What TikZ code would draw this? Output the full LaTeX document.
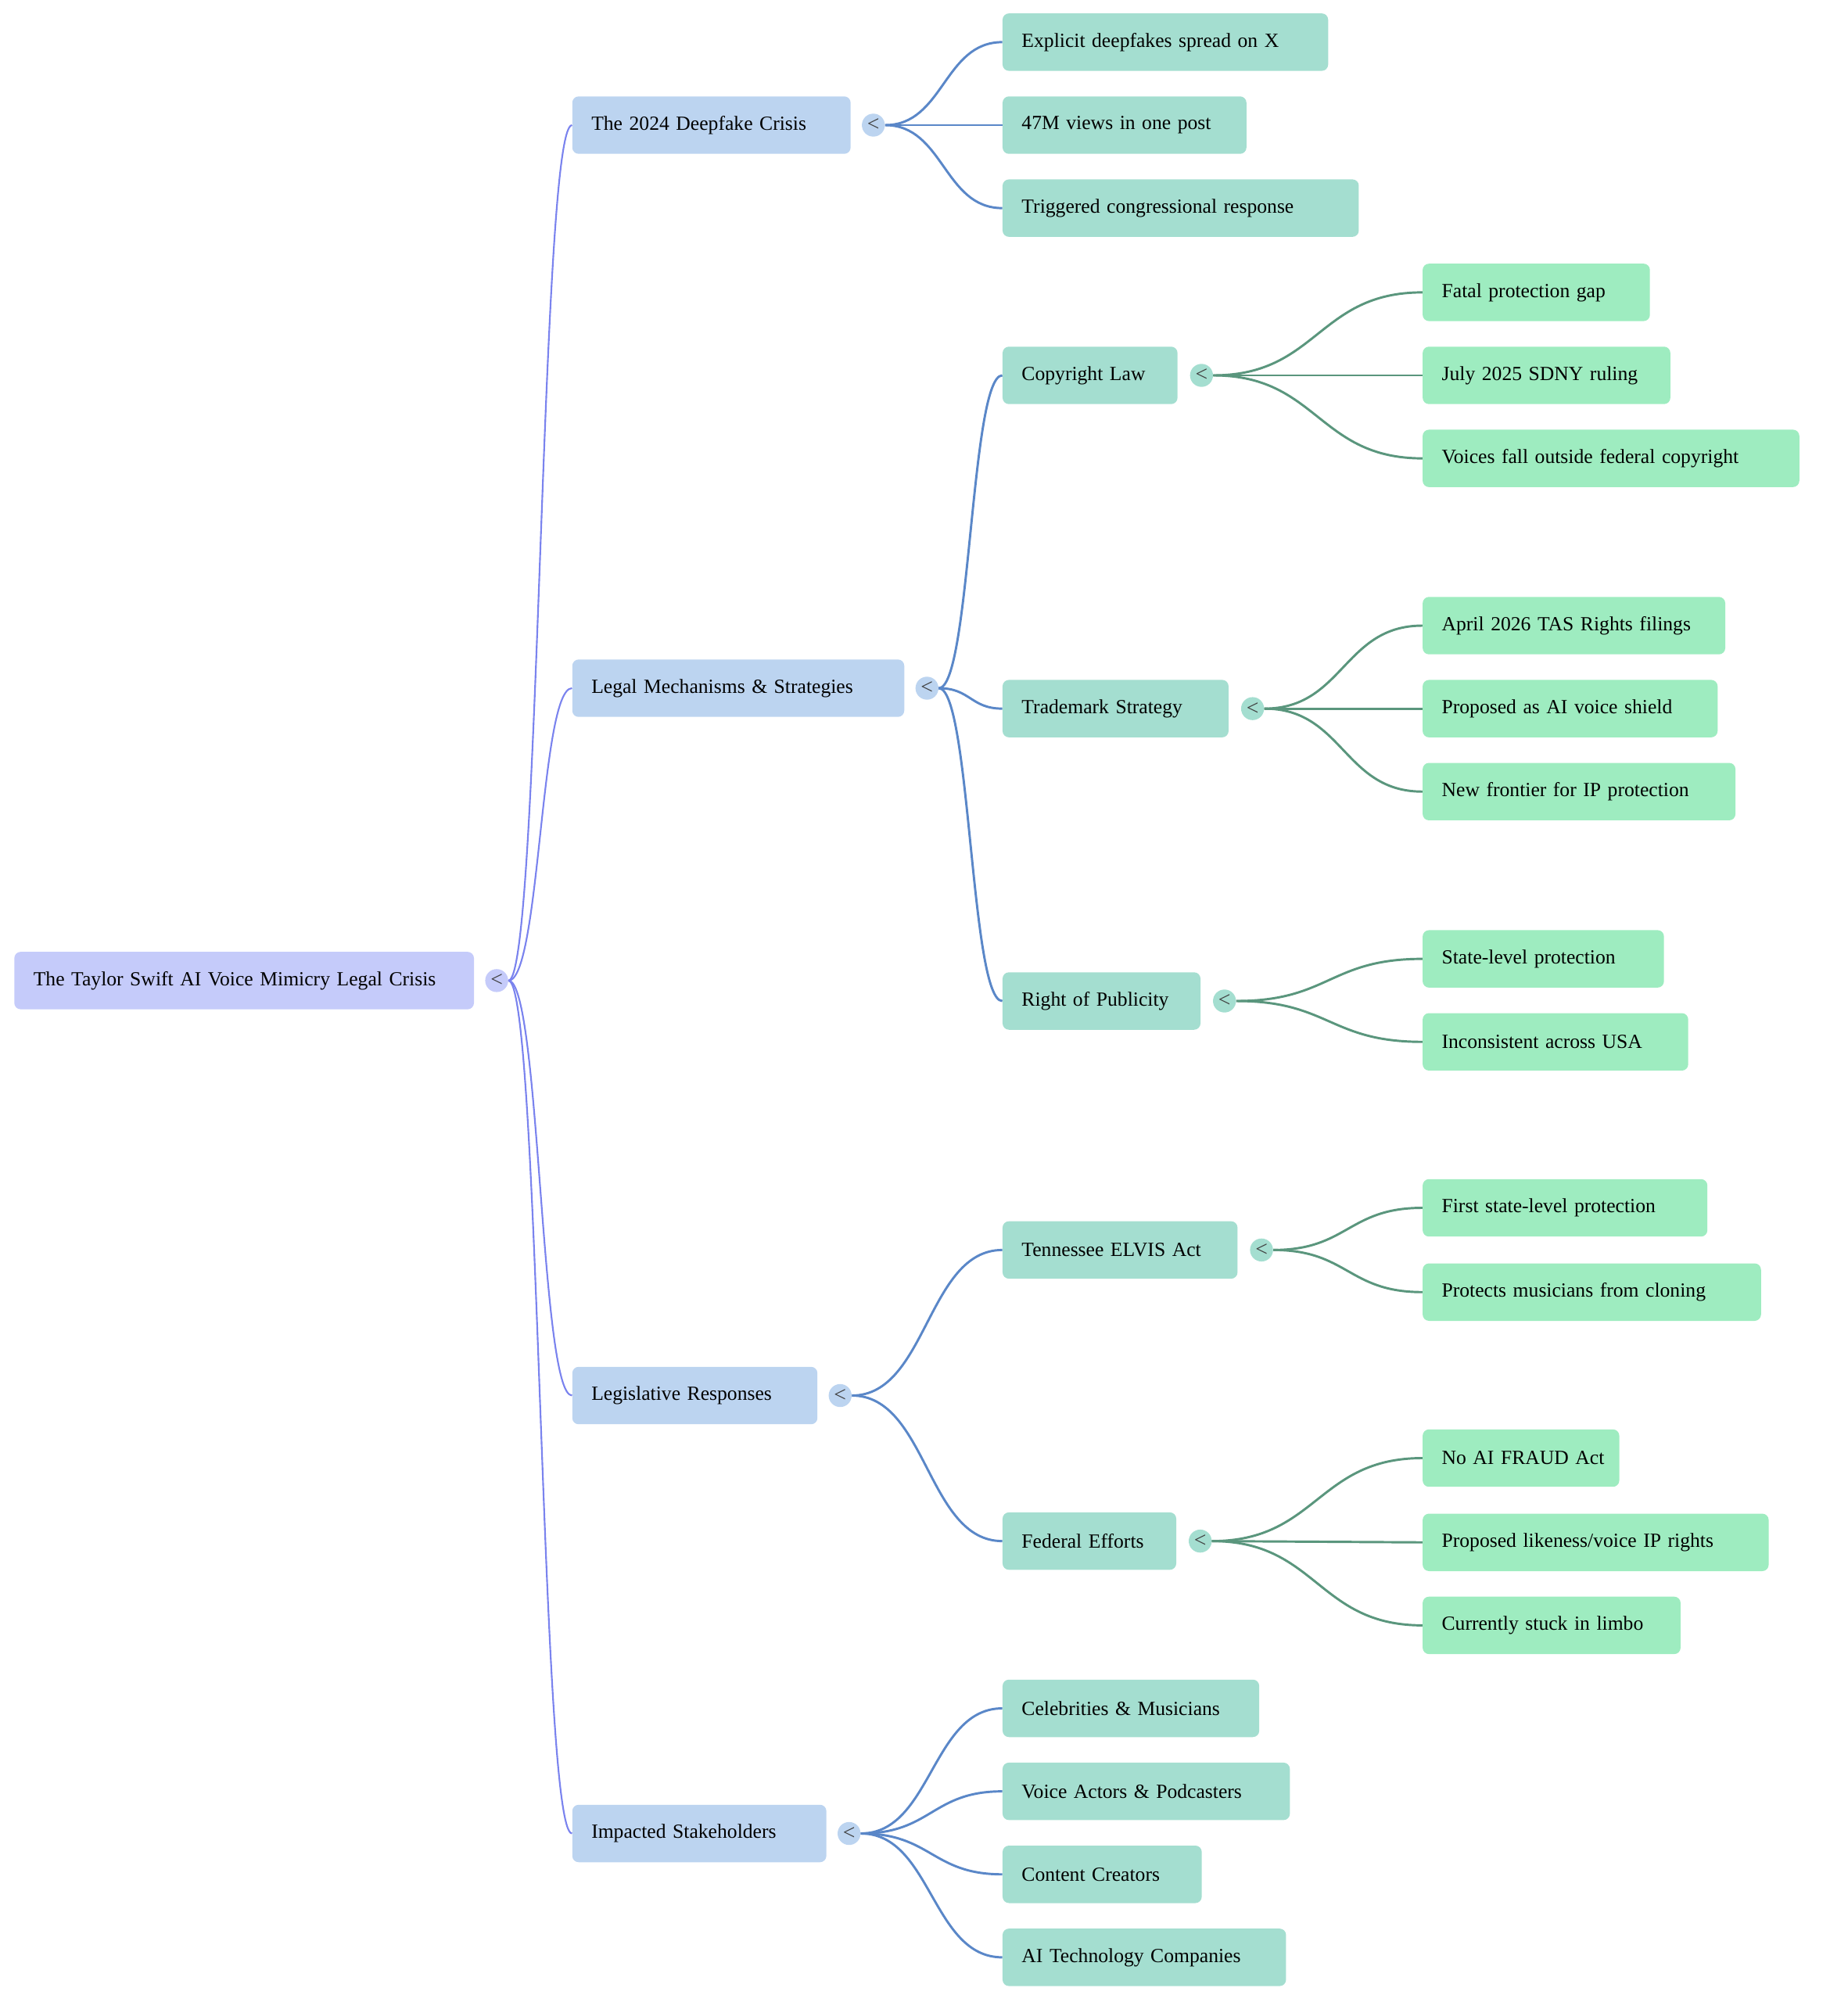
\documentclass[tikz,border=0pt]{standalone}
\usepackage{fontspec}
\setmainfont{Liberation Serif}
\usetikzlibrary{calc}
\definecolor{f0}{HTML}{C5CBFA}
\definecolor{f1}{HTML}{BCD4F0}
\definecolor{f2}{HTML}{A4DED0}
\definecolor{f3}{HTML}{9EECC0}
\definecolor{l0}{HTML}{7A83EE}
\definecolor{l1}{HTML}{5A87C8}
\definecolor{l2}{HTML}{5A967D}
\tikzset{
  mbox/.style={rounded corners=5pt, minimum height=45pt, inner xsep=15pt, inner ysep=0pt,
    anchor=west, align=left, font=\fontsize{15.7}{19}\selectfont, text=black},
  b0/.style={mbox, fill=f0},
  b1/.style={mbox, fill=f1},
  b2/.style={mbox, fill=f2},
  b3/.style={mbox, fill=f3},
  knob/.style={circle, minimum size=18pt, inner sep=0pt, font=\fontsize{17}{17}\selectfont, text=black!75},
  lk0/.style={draw=l0, line width=1.3pt},
  lk1/.style={draw=l1, line width=1.8pt},
  lk2/.style={draw=l2, line width=1.8pt},
}
\newcommand\mlink[3]{\draw[#1] let \p1=(#2.east), \p2=(#3.west) in
  (\p1) .. controls ({(\x1+\x2)/2},\y1) and ({(\x1+\x2)/2},\y2) .. (\p2);}
\begin{document}
\begin{tikzpicture}[x=1pt,y=-1pt]
\useasboundingbox (0,0) rectangle (1447,1568);
% root
\node[b0, text width=330pt] (root) at (11,768) {\mbox{The Taylor Swift AI Voice Mimicry Legal Crisis}};
\node[knob, fill=f0] (kroot) at (389,768) {<};
% level 1
\node[b1, text width=188pt] (a) at (448,98) {\mbox{The 2024 Deepfake Crisis}};
\node[b1, text width=230pt] (b) at (448,539) {\mbox{Legal Mechanisms \& Strategies}};
\node[b1, text width=162pt] (c) at (448,1093) {\mbox{Legislative Responses}};
\node[b1, text width=169pt] (d) at (448,1436) {\mbox{Impacted Stakeholders}};
\node[knob, fill=f1] (ka) at (684,98) {<};
\node[knob, fill=f1] (kb) at (726,539) {<};
\node[knob, fill=f1] (kc) at (658,1093) {<};
\node[knob, fill=f1] (kd) at (665,1436) {<};
% level 2
\node[b2, text width=225pt] (a1) at (785,33) {\mbox{Explicit deepfakes spread on X}};
\node[b2, text width=161pt] (a2) at (785,98) {\mbox{47M views in one post}};
\node[b2, text width=249pt] (a3) at (785,163) {\mbox{Triggered congressional response}};
\node[b2, text width=107pt] (b1) at (785,294) {\mbox{Copyright Law}};
\node[b2, text width=147pt] (b2) at (785,555) {\mbox{Trademark Strategy}};
\node[b2, text width=125pt] (b3) at (785,784) {\mbox{Right of Publicity}};
\node[b2, text width=154pt] (c1) at (785,979) {\mbox{Tennessee ELVIS Act}};
\node[b2, text width=106pt] (c2) at (785,1207) {\mbox{Federal Efforts}};
\node[b2, text width=171pt] (d1) at (785,1338) {\mbox{Celebrities \& Musicians}};
\node[b2, text width=195pt] (d2) at (785,1403) {\mbox{Voice Actors \& Podcasters}};
\node[b2, text width=126pt] (d3) at (785,1468) {\mbox{Content Creators}};
\node[b2, text width=192pt] (d4) at (785,1533) {\mbox{AI Technology Companies}};
\node[knob, fill=f2] (kb1) at (941,294) {<};
\node[knob, fill=f2] (kb2) at (981,555) {<};
\node[knob, fill=f2] (kb3) at (959,784) {<};
\node[knob, fill=f2] (kc1) at (988,979) {<};
\node[knob, fill=f2] (kc2) at (940,1207) {<};
% level 3
\node[b3, text width=148pt] (b1a) at (1114,229) {\mbox{Fatal protection gap}};
\node[b3, text width=164pt] (b1b) at (1114,294) {\mbox{July 2025 SDNY ruling}};
\node[b3, text width=265pt] (b1c) at (1114,359) {\mbox{Voices fall outside federal copyright}};
\node[b3, text width=207pt] (b2a) at (1114,490) {\mbox{April 2026 TAS Rights filings}};
\node[b3, text width=201pt] (b2b) at (1114,555) {\mbox{Proposed as AI voice shield}};
\node[b3, text width=215pt] (b2c) at (1114,620) {\mbox{New frontier for IP protection}};
\node[b3, text width=159pt] (b3a) at (1114,751) {\mbox{State-level protection}};
\node[b3, text width=178pt] (b3b) at (1114,816) {\mbox{Inconsistent across USA}};
\node[b3, text width=193pt] (c1a) at (1114,946) {\mbox{First state-level protection}};
\node[b3, text width=235pt] (c1b) at (1114,1012) {\mbox{Protects musicians from cloning}};
\node[b3, text width=124pt] (c2a) at (1114,1142) {\mbox{No AI FRAUD Act}};
\node[b3, text width=241pt] (c2b) at (1114,1208) {\mbox{Proposed likeness/voice IP rights}};
\node[b3, text width=172pt] (c2c) at (1114,1273) {\mbox{Currently stuck in limbo}};
% links
\foreach \t in {a,b,c,d} {\mlink{lk0}{kroot}{\t}}
\foreach \t in {a1,a2,a3} {\mlink{lk1}{ka}{\t}}
\foreach \t in {b1,b2,b3} {\mlink{lk1}{kb}{\t}}
\foreach \t in {c1,c2} {\mlink{lk1}{kc}{\t}}
\foreach \t in {d1,d2,d3,d4} {\mlink{lk1}{kd}{\t}}
\foreach \t in {b1a,b1b,b1c} {\mlink{lk2}{kb1}{\t}}
\foreach \t in {b2a,b2b,b2c} {\mlink{lk2}{kb2}{\t}}
\foreach \t in {b3a,b3b} {\mlink{lk2}{kb3}{\t}}
\foreach \t in {c1a,c1b} {\mlink{lk2}{kc1}{\t}}
\foreach \t in {c2a,c2b,c2c} {\mlink{lk2}{kc2}{\t}}
\end{tikzpicture}
\end{document}
